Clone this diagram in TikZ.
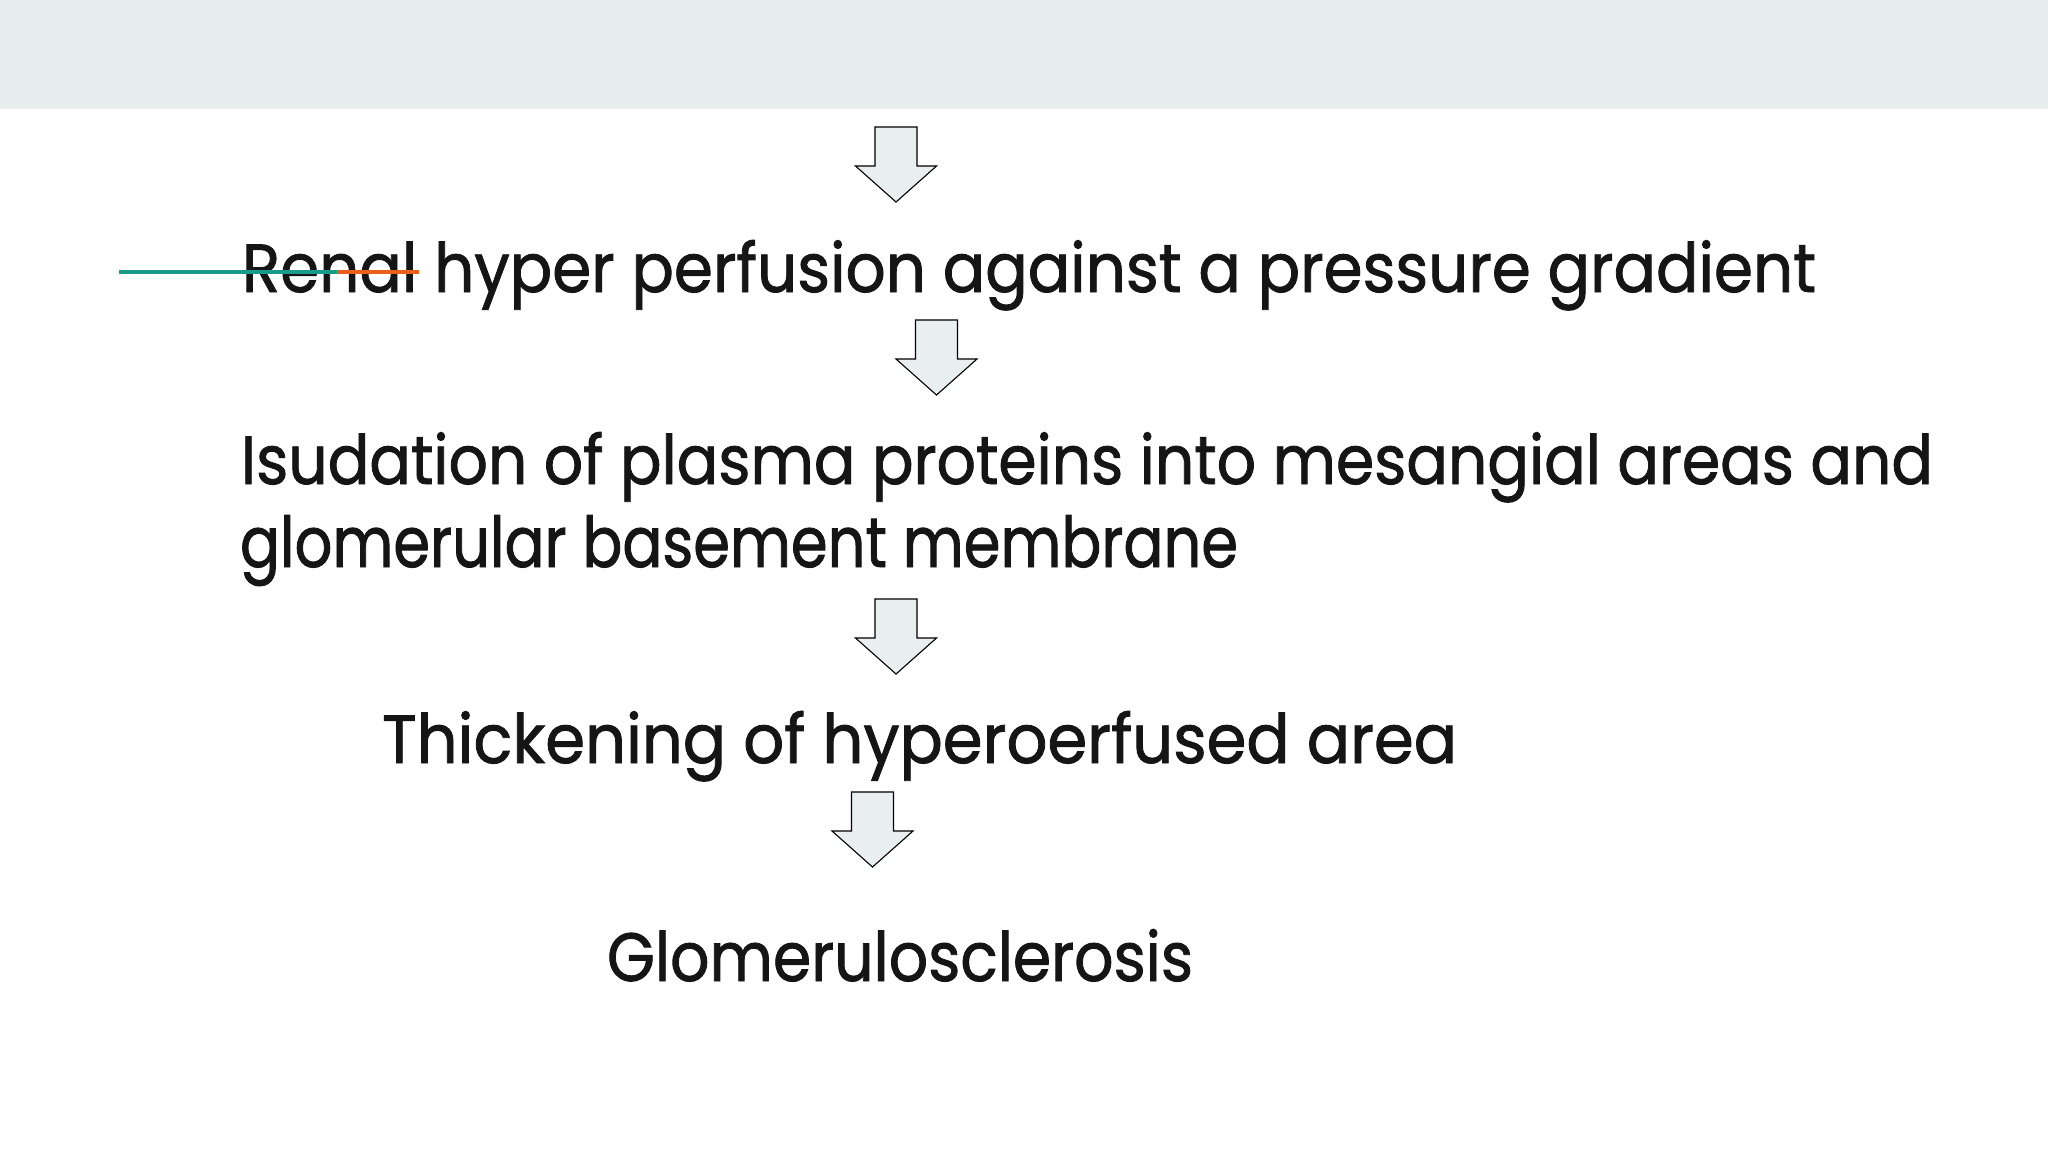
\documentclass[tikz,border=0pt]{standalone}
\usepackage{fontspec}
\setmainfont{Poppins}[FakeBold=1.3]
\usepackage{graphicx}
\definecolor{banner}{HTML}{E8EDED}
\definecolor{arrowfill}{HTML}{E9EEEE}
\definecolor{ink}{HTML}{151515}
\definecolor{strikeTeal}{HTML}{1A9A88}
\definecolor{strikeOrange}{HTML}{E8601C}
\tikzset{
  linetext/.style={anchor=base west, inner sep=0pt, outer sep=0pt, text=ink, font=\fontsize{30}{36}\selectfont},
  blockarrow/.style={draw=black, fill=arrowfill, line width=0.55pt, line join=miter},
  strike/.style={line width=1.7pt}
}
\newcommand{\fitline}[2]{\resizebox{#1}{26pt}{#2}}
\newcommand{\blockarr}[2]{% center x, top y
  \draw[blockarrow] (#1-21,#2) -- (#1+21,#2) -- (#1+21,#2+39) -- (#1+40.5,#2+39)
    -- (#1,#2+75) -- (#1-40.5,#2+39) -- (#1-21,#2+39) -- cycle;}
\begin{document}
\begin{tikzpicture}[x=0.5pt,y=-0.5pt]
\useasboundingbox (0,0) rectangle (2048,1152);
\fill[white] (0,0) rectangle (2048,1152);
\fill[banner] (0,0) rectangle (2048,109);

\blockarr{896}{127}
\node[linetext] (l1) at (242,292) {\fitline{787pt}{Renal hyper perfusion against a pressure gradient}};
\coordinate (sA) at (119,272);
\coordinate (sB) at (337,272);
\coordinate (sC) at (419,272);
\draw[strike, strikeTeal] (sA) -- (sB);
\draw[strike, strikeOrange] (sB) -- (sC);

\blockarr{936.5}{320}
\node[linetext] (l2) at (241,484) {\fitline{846pt}{Isudation of plasma proteins into mesangial areas and}};
\node[linetext] (l3) at (240,567) {\fitline{499pt}{glomerular basement membrane}};

\blockarr{896}{599}
\node[linetext] (l4) at (382,763) {\fitline{537.5pt}{Thickening of hyperoerfused area}};

\blockarr{872.5}{792}
\node[linetext] (l5) at (607,981) {\fitline{293pt}{Glomerulosclerosis}};
\end{tikzpicture}
\end{document}
